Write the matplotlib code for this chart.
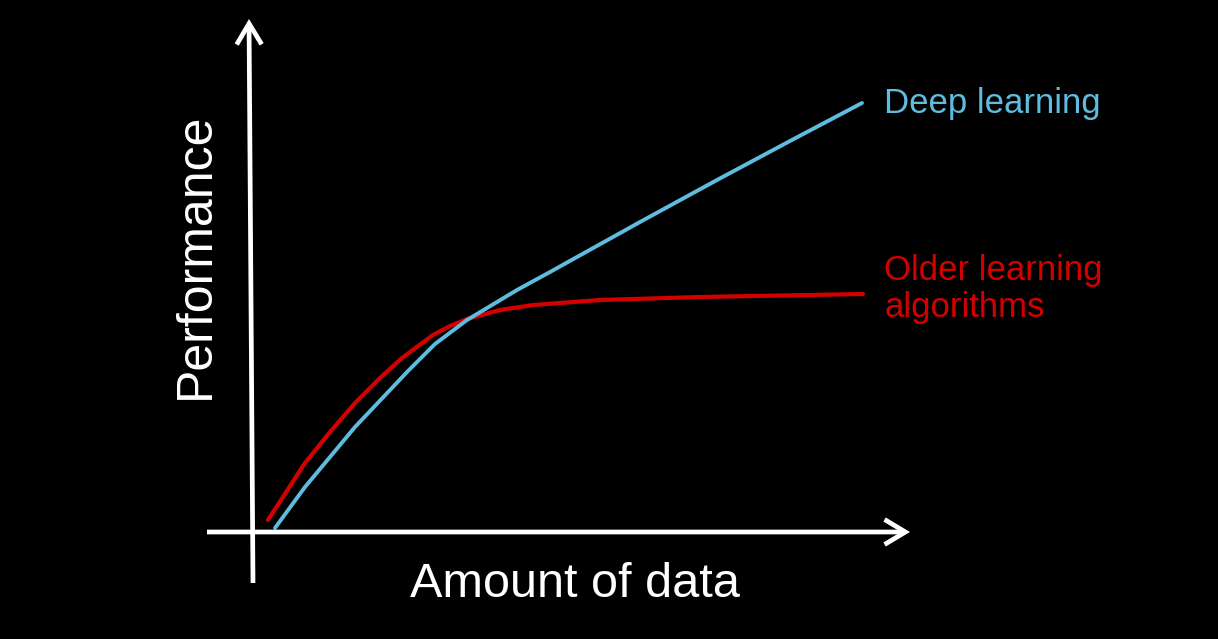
import numpy as np
from matplotlib import pyplot as plt

plt.rcParams['font.family'] = ['Liberation Sans', 'DejaVu Sans']

# curves (amount of data, performance)
deepX = [0.22, 0.52, 1.02, 1.55, 1.82, 2.14, 2.64, 2.97, 3.87, 4.64, 5.37, 6.09]
deepY = [0.04, 0.45, 1.05, 1.61, 1.88, 2.12, 2.42, 2.60, 3.10, 3.52, 3.91, 4.29]

olderX = [0.15, 0.52, 0.77, 1.02, 1.27, 1.49, 1.80, 1.97, 2.14, 2.47, 2.80, 3.47, 4.47, 6.10]
olderY = [0.12, 0.69, 1.00, 1.29, 1.54, 1.74, 1.97, 2.06, 2.13, 2.22, 2.27, 2.32, 2.35, 2.38]

xLabel = 'Amount of data'
yLabel = 'Performance'
deepLabel = 'Deep learning'
olderLabel = 'Older learning\nalgorithms'

blue = '#5fbcdf'
red = '#d40000'

fig = plt.figure(figsize=(12.18, 6.39), dpi=100, facecolor='black')
ax = fig.add_axes([0, 0, 1, 1])
ax.set_facecolor('black')
ax.set_xlim(-2.53, 9.65)
ax.set_ylim(-1.07, 5.32)
ax.axis('off')

arrowStyle = dict(arrowstyle='->,head_length=0.75,head_width=0.45', lw=3.4,
                  color='white', mutation_scale=20, shrinkA=0, shrinkB=0,
                  capstyle='butt', joinstyle='miter')
ax.annotate('', xy=(6.57, 0), xytext=(-0.46, 0), arrowprops=arrowStyle)
ax.annotate('', xy=(-0.04, 5.13), xytext=(0, -0.51), arrowprops=arrowStyle)

ax.plot(olderX, olderY, color=red, lw=3, solid_capstyle='round', solid_joinstyle='round')
ax.plot(deepX, deepY, color=blue, lw=2.8, solid_capstyle='round', solid_joinstyle='round')

ax.text(3.22, -0.65, xLabel, color='white', fontsize=35, ha='center', va='baseline')
ax.text(-0.57, 2.76, yLabel, color='white', fontsize=36, rotation=90,
        ha='center', va='center')
ax.text(6.31, 4.19, deepLabel, color=blue, fontsize=25, ha='left', va='baseline')
ax.text(6.31, 2.15, olderLabel, color=red, fontsize=25, ha='left', va='baseline',
        linespacing=1.14)

fig.savefig('out.png', dpi=100, facecolor='black')
